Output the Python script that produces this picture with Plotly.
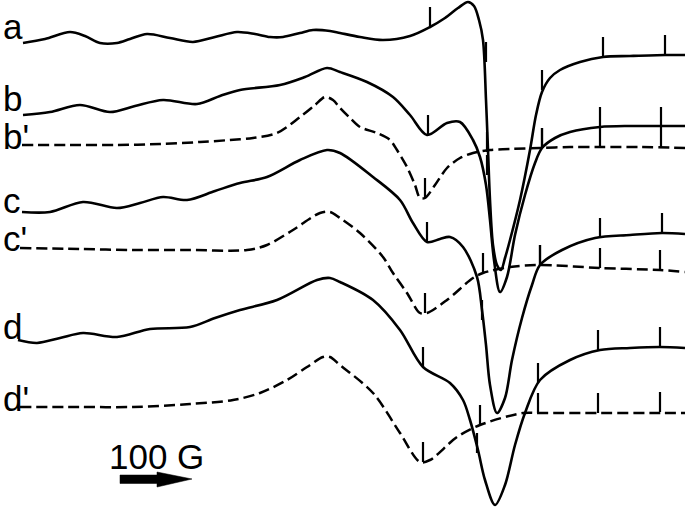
import plotly.graph_objects as go

# ---- spectra (field axis left->right, signal axis downwards) ----
a_x = [23, 45, 70, 85, 100, 117, 130, 147, 170, 193, 215, 237, 255, 270, 283, 300, 313, 330, 340, 360, 383, 410, 430, 445, 458, 468, 474, 479, 483, 486, 488, 490, 493, 497, 501, 505, 510, 520, 530, 536, 542, 550, 560, 580, 603, 630, 665, 685]
a_y = [43, 39, 32, 36, 43, 43, 39, 34, 38, 42, 37, 32, 34, 37, 37, 33, 30, 31, 33, 37, 40, 36, 27, 18, 8, 2, 6, 20, 40, 100, 150, 200, 245, 265, 270, 258, 240, 200, 150, 115, 92, 78, 70, 62, 57, 56, 55, 55]

b_x = [23, 50, 80, 110, 135, 163, 197, 220, 240, 280, 305, 327, 340, 367, 393, 410, 427, 447, 460, 473, 480, 486, 490, 494, 500, 507, 515, 525, 535, 542, 555, 570, 600, 630, 660, 685]
b_y = [115, 112, 105, 112, 106, 100, 104, 96, 90, 85, 77, 68, 72, 82, 97, 115, 135, 123, 122, 140, 157, 185, 220, 260, 292, 277, 235, 195, 163, 148, 138, 132, 127, 126, 126, 126]

bp_x = [22, 70, 117, 160, 200, 230, 253, 277, 300, 315, 325, 333, 340, 350, 360, 377, 390, 397, 407, 415, 420, 425, 435, 447, 460, 473, 490, 510, 540, 570, 600, 640, 685]
bp_y = [145, 145, 145, 144, 142, 140, 138, 133, 117, 105, 97, 100, 108, 118, 127, 133, 140, 150, 167, 185, 198, 198, 185, 168, 158, 153, 150, 149, 148, 147, 147, 147, 148]

c_x = [22, 50, 83, 117, 140, 163, 187, 215, 240, 267, 300, 327, 340, 373, 400, 413, 427, 440, 450, 463, 477, 482, 486, 490, 497, 505, 512, 522, 532, 540, 562, 595, 630, 662, 685]
c_y = [212, 212, 202, 208, 203, 197, 200, 191, 183, 177, 160, 150, 153, 177, 200, 223, 242, 239, 237, 247, 277, 310, 345, 385, 413, 398, 360, 318, 285, 265, 250, 238, 235, 233, 234]

cp_x = [20, 80, 133, 190, 247, 267, 293, 320, 330, 340, 360, 383, 393, 407, 420, 427, 447, 473, 483, 510, 540, 600, 660, 685]
cp_y = [248, 249, 250, 250, 250, 245, 230, 213, 212, 218, 233, 257, 273, 293, 313, 313, 300, 278, 273, 267, 265, 268, 270, 272]

d_x = [18, 37, 60, 83, 117, 150, 190, 215, 240, 277, 317, 330, 340, 373, 400, 423, 450, 463, 470, 478, 485, 495, 505, 515, 525, 540, 570, 600, 630, 660, 685]
d_y = [340, 343, 338, 333, 337, 329, 327, 318, 310, 300, 280, 278, 282, 300, 330, 367, 383, 400, 420, 450, 480, 505, 485, 445, 413, 380, 360, 350, 348, 347, 348]

dp_x = [20, 80, 133, 190, 233, 260, 287, 307, 323, 330, 340, 373, 400, 420, 430, 457, 480, 523, 540, 600, 660, 685]
dp_y = [407, 407, 407, 404, 400, 393, 380, 367, 357, 357, 365, 393, 433, 462, 460, 437, 425, 413, 413, 413, 413, 413]

# ---- hyperfine marker ticks: field positions and the curve level where each starts ----
a_tick_x = [430, 486, 542, 603, 665]
a_tick_y = [27, 62, 90, 57, 55]
b_tick_x = [428, 487, 542, 600, 661]
b_tick_y = [135, 175, 148, 127, 127]
bp_tick_x = [425, 487, 542, 600, 661]
bp_tick_y = [198, 152, 148, 147, 147]
c_tick_x = [427, 482, 540, 600, 662]
c_tick_y = [242, 320, 265, 238, 233]
cp_tick_x = [425, 483, 540, 600, 660]
cp_tick_y = [313, 273, 265, 268, 270]
d_tick_x = [423, 477, 538, 598, 660]
d_tick_y = [367, 453, 383, 350, 347]
dp_tick_x = [423, 480, 538, 598, 660]
dp_tick_y = [462, 425, 413, 413, 412]
TICK_LEN = 20

labels = ["a", "b", "b'", "c", "c'", "d", "d'"]
label_base = [38, 110, 148, 212, 250, 338, 410]
scale_text = "100 G"

series = [
    (a_x, a_y, a_tick_x, a_tick_y, "solid"),
    (b_x, b_y, b_tick_x, b_tick_y, "solid"),
    (bp_x, bp_y, bp_tick_x, bp_tick_y, "dash"),
    (c_x, c_y, c_tick_x, c_tick_y, "solid"),
    (cp_x, cp_y, cp_tick_x, cp_tick_y, "dash"),
    (d_x, d_y, d_tick_x, d_tick_y, "solid"),
    (dp_x, dp_y, dp_tick_x, dp_tick_y, "dash"),
]

fig = go.Figure()
for xs, ys, tx, ty, style in series:
    dash = "solid" if style == "solid" else "11px,5px"
    width = 2.6 if style == "solid" else 2.5
    fig.add_trace(go.Scatter(x=xs, y=ys, mode="lines",
                             line=dict(color="black", width=width, dash=dash,
                                       shape="spline", smoothing=0.9),
                             hoverinfo="skip", showlegend=False))
    sx, sy = [], []
    for x0, y0 in zip(tx, ty):
        sx += [x0, x0, None]
        sy += [y0, y0 - TICK_LEN, None]
    fig.add_trace(go.Scatter(x=sx, y=sy, mode="lines",
                             line=dict(color="black", width=2.2),
                             hoverinfo="skip", showlegend=False))

font = dict(family="Liberation Sans, Arial, sans-serif", size=35, color="black")
for lab, base in zip(labels, label_base):
    fig.add_annotation(x=1, y=base - 12, text=lab, showarrow=False,
                       xanchor="left", yanchor="middle", font=font)

fig.add_annotation(x=156, y=456, text=scale_text, showarrow=False,
                   xanchor="center", yanchor="middle", font=font)

# scale arrow
fig.add_shape(type="path",
              path="M120,475 L157,475 L157,472 L192,479 L157,487 L157,483.5 L120,483.5 Z",
              fillcolor="black", line=dict(color="black", width=0.5))

fig.update_layout(
    width=685, height=509,
    margin=dict(l=0, r=0, t=0, b=0),
    paper_bgcolor="white", plot_bgcolor="white",
    xaxis=dict(range=[0, 685], visible=False, fixedrange=True),
    yaxis=dict(range=[509, 0], visible=False, fixedrange=True),
)
fig.write_html("out.html", config={"displayModeBar": False, "staticPlot": True},
               post_script="document.body.style.margin='0';document.body.style.overflow='hidden';")
